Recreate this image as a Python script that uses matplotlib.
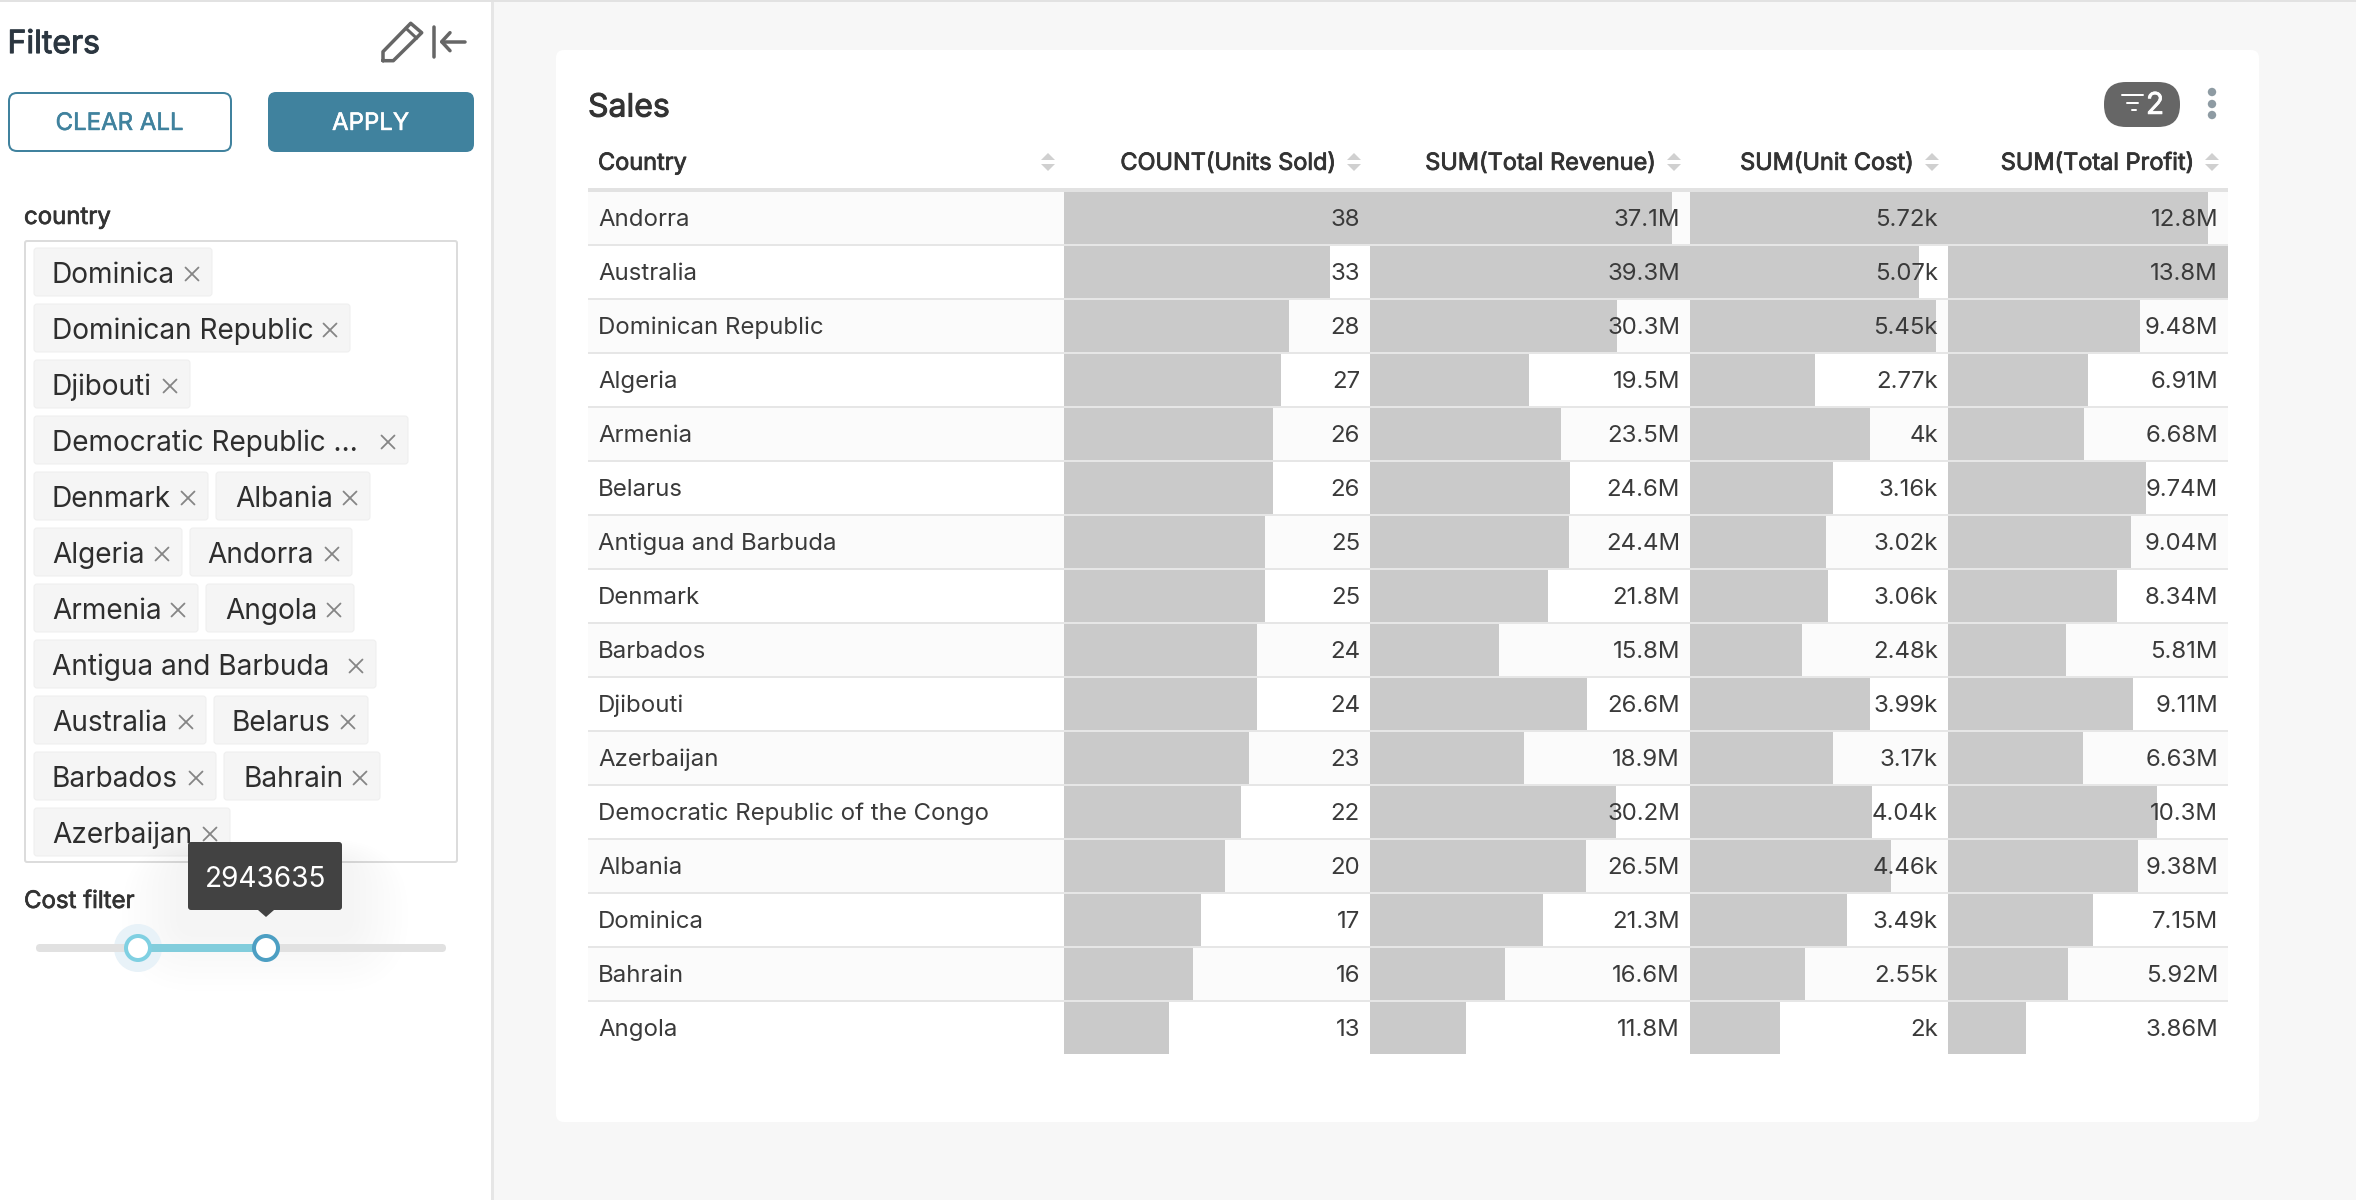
import matplotlib
matplotlib.use("Agg")
import matplotlib.pyplot as plt
import matplotlib.patheffects as pe
from matplotlib.patches import FancyBboxPatch, Rectangle, Polygon, Circle
from matplotlib.lines import Line2D

plt.rcParams["font.family"] = ["Inter", "DejaVu Sans"]

W, H = 2356, 1200
PX = 0.72  # px -> pt at dpi 100

# ---- table data ----
countries = ["Andorra", "Australia", "Dominican Republic", "Algeria", "Armenia", "Belarus",
             "Antigua and Barbuda", "Denmark", "Barbados", "Djibouti", "Azerbaijan",
             "Democratic Republic of the Congo", "Albania", "Dominica", "Bahrain", "Angola"]
units_sold = [38, 33, 28, 27, 26, 26, 25, 25, 24, 24, 23, 22, 20, 17, 16, 13]
total_revenue = [37.1, 39.3, 30.3, 19.5, 23.5, 24.6, 24.4, 21.8, 15.8, 26.6, 18.9, 30.2, 26.5, 21.3, 16.6, 11.8]
unit_cost = [5.72, 5.07, 5.45, 2.77, 4, 3.16, 3.02, 3.06, 2.48, 3.99, 3.17, 4.04, 4.46, 3.49, 2.55, 2]
total_profit = [12.8, 13.8, 9.48, 6.91, 6.68, 9.74, 9.04, 8.34, 5.81, 9.11, 6.63, 10.3, 9.38, 7.15, 5.92, 3.86]

col_names = ["COUNT(Units Sold)", "SUM(Total Revenue)", "SUM(Unit Cost)", "SUM(Total Profit)"]
col_suffix = ["", "M", "k", "M"]

# ---- filter panel data ----
tag_rows = [
    ["Dominica"],
    ["Dominican Republic"],
    ["Djibouti"],
    ["Democratic Republic ..."],
    ["Denmark", "Albania"],
    ["Algeria", "Andorra"],
    ["Armenia", "Angola"],
    ["Antigua and Barbuda"],
    ["Australia", "Belarus"],
    ["Barbados", "Bahrain"],
    ["Azerbaijan"],
]
tag_edges = [[(34, 212)], [(34, 350)], [(34, 190)], [(34, 408)],
             [(34, 208), (216, 370)], [(34, 182), (190, 352)], [(34, 198), (206, 354)],
             [(34, 376)], [(34, 206), (214, 368)], [(34, 216), (224, 380)], [(34, 230)]]
tag_text_x = [[52], [52], [52], [52], [52, 235], [52, 207], [52, 225], [52], [52, 231], [52, 243], [52]]
tag_close_x = [[192], [330], [170], [388], [188, 350], [162, 332], [178, 334], [356], [186, 348], [196, 360], [210]]
slider_value = "2943635"

fig = plt.figure(figsize=(W / 100, H / 100), dpi=100, facecolor="#f7f7f7")

# pixel axes for all the page furniture
ui = fig.add_axes([0, 0, 1, 1], zorder=0)
ui.set_xlim(0, W)
ui.set_ylim(H, 0)
ui.axis("off")


def rbox(x0, y0, x1, y1, r, fc, ec="none", lw=0, **kw):
    p = FancyBboxPatch((x0, y0), x1 - x0, y1 - y0, boxstyle=f"round,pad=0,rounding_size={r}",
                       fc=fc, ec=ec, lw=lw * PX, **kw)
    ui.add_patch(p)
    return p


def line(xs, ys, color, lw, **kw):
    ui.add_line(Line2D(xs, ys, color=color, lw=lw * PX, solid_capstyle="round", **kw))


def txt(x, y, s, px, color="#333333", ha="left", heavy=0, **kw):
    # y is the middle of the row; baseline keeps all the labels on one line
    t = ui.text(x, y + 0.33 * px, s, fontsize=px * PX, color=color, ha=ha, va="baseline", **kw)
    if heavy:  # Inter only comes in a few weights, thicken for the medium look
        t.set_path_effects([pe.withStroke(linewidth=heavy, foreground=color)])
    return t


# ---- page background ----
ui.add_patch(Rectangle((0, 0), W, 2, fc="#e2e2e2", ec="none"))
ui.add_patch(Rectangle((0, 2), 491, H, fc="white", ec="none"))
ui.add_patch(Rectangle((491, 2), 3, H, fc="#e6e6e6", ec="none"))
rbox(556, 50, 2259, 1122, 8, "white")

# ---- filters header ----
txt(7.5, 42.5, "Filters", 32, color="#2b3640", heavy=0.7)
line([383, 383, 410.7, 421.7, 393.3, 383], [60.7, 51.7, 23.3, 32.7, 60.7, 60.7], "#666666", 3.5)
line([406, 416.7], [28.3, 38.3], "#666666", 3)
line([433.7, 433.7], [27, 57], "#666666", 3.5)
line([441.7, 465], [41.7, 41.7], "#666666", 3.5)
line([450, 441.7, 450], [32.7, 41.7, 50.7], "#666666", 3.5)

rbox(9, 93, 231, 151, 8, "white", ec="#40829e", lw=2)
txt(119.5, 122, "CLEAR ALL", 24, color="#40829e", ha="center", heavy=0.4)
rbox(268, 92, 474, 152, 8, "#40829e")
txt(370.5, 122, "APPLY", 24, color="white", ha="center", heavy=0.4)

# ---- country select with tags ----
txt(24, 216, "country", 24, color="#333333", heavy=0.5)
rbox(25, 241, 457, 862, 2, "white", ec="#dcdcdc", lw=2)
for r, row in enumerate(tag_rows):
    top = 248 + 56 * r
    for k, name in enumerate(row):
        x0, x1 = tag_edges[r][k]
        rbox(x0, top, x1, top + 48, 3, "#f5f5f5", ec="#efefef", lw=1)
        txt(tag_text_x[r][k], top + 25.5, name, 28, color="#2e2e2e")
        cx, cy = tag_close_x[r][k], top + 26
        line([cx - 6.5, cx + 6.5], [cy - 6.5, cy + 6.5], "#858585", 1.8)
        line([cx - 6.5, cx + 6.5], [cy + 6.5, cy - 6.5], "#858585", 1.8)

# ---- cost slider ----
txt(24, 900, "Cost filter", 24, color="#333333", heavy=0.5)
for g in range(12, 72, 6):
    rbox(188 - g, 860 - g * 0.3, 342 + g, 925 + g, 8 + g, "black", alpha=0.0035)
ui.add_patch(Circle((138, 948), 24, fc="#e8f2f8", ec="none"))
rbox(36, 944, 446, 952, 4, "#e1e1e1")
ui.add_patch(Rectangle((138, 944), 128, 8, fc="#82cddc", ec="none"))
ui.add_patch(Circle((138, 948), 12, fc="white", ec="#7fd0e2", lw=4 * PX, zorder=3))
ui.add_patch(Circle((266, 948), 12, fc="white", ec="#4d9fc3", lw=4 * PX, zorder=3))
rbox(188, 842, 342, 910, 3, "#424242", zorder=4)
ui.add_patch(Polygon([(258, 910), (274, 910), (266, 917)], fc="#424242", ec="none", zorder=4))
txt(266, 877.5, slider_value, 28, color="white", ha="center", zorder=5)

# ---- card header ----
txt(588, 106, "Sales", 32, color="#333333", heavy=0.7)
rbox(2104, 82, 2180, 127, 22, "#666666")
line([2122, 2143], [95, 95], "white", 2)
line([2127, 2138], [103, 103], "white", 2)
line([2132, 2136], [110, 110], "white", 2)
txt(2155, 104, "2", 30, color="white", ha="center", heavy=0.5)
for dy in (92, 104, 115):
    ui.add_patch(Circle((2212, dy), 4.2, fc="#8e9ba3", ec="none"))

# ---- table frame ----
col_edges = [1064, 1370, 1690, 1948, 2228]
sort_x = [1048, 1354, 1674, 1932, 2212]
head_right = [1336, 1656, 1914, 2194]

txt(598, 162, "Country", 23.5, color="#333333", heavy=0.6)
for name, xr in zip(col_names, head_right):
    txt(xr, 162, name, 23.5, color="#333333", ha="right", heavy=0.6)
for sx in sort_x:
    ui.add_patch(Polygon([(sx - 7, 160), (sx + 7, 160), (sx, 153)], fc="#d0d0d0", ec="none"))
    ui.add_patch(Polygon([(sx - 7, 164), (sx + 7, 164), (sx, 171)], fc="#d0d0d0", ec="none"))

ui.add_patch(Rectangle((588, 188), 2228 - 588, 4, fc="#e2e2e2", ec="none"))
for i, country in enumerate(countries):
    top = 192 + 54 * i
    if i % 2 == 0:
        ui.add_patch(Rectangle((588, top), 2228 - 588, 52, fc="#fbfbfb", ec="none"))
    if i < len(countries) - 1:
        ui.add_patch(Rectangle((588, top + 52), 2228 - 588, 2, fc="#e6e6e6", ec="none"))
    txt(598, top + 26, country, 24, color="#3a3a3a")

# ---- value columns, each one its own axes so bars scale to the column max ----
columns = [units_sold, total_revenue, unit_cost, total_profit]
rows = list(range(len(countries)))
for c, values in enumerate(columns):
    x0, x1 = col_edges[c], col_edges[c + 1]
    ax = fig.add_axes([x0 / W, 1 - 1055 / H, (x1 - x0) / W, (1055 - 191) / H], zorder=1)
    ax.patch.set_alpha(0)
    ax.axis("off")
    ax.barh(rows, values, height=52 / 54, color="#cacaca")
    ax.set_xlim(0, max(values))
    ax.set_ylim(15.5, -0.5)
    for i, v in zip(rows, values):
        label = f"{v:.3g}{col_suffix[c]}"
        ax.annotate(label, xy=(1, i), xycoords=ax.get_yaxis_transform(), xytext=(-10, -8),
                    textcoords="offset pixels", ha="right", va="baseline",
                    fontsize=24 * PX, color="#3a3a3a")

fig.savefig("out.png", dpi=100, facecolor=fig.get_facecolor())
